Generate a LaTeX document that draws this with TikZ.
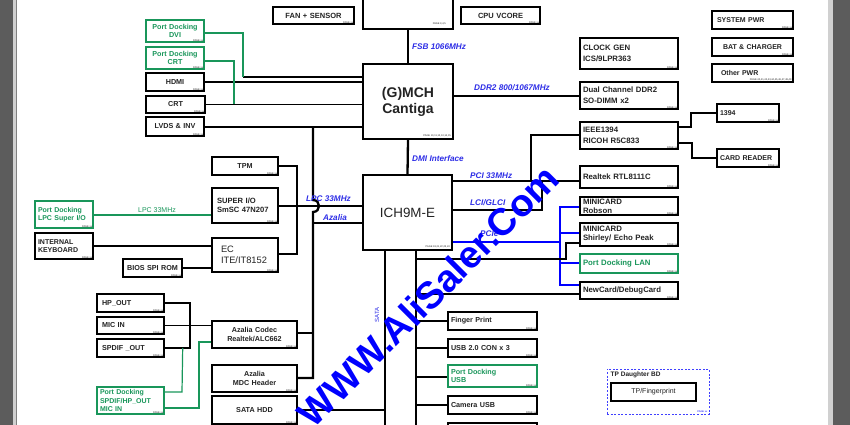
\documentclass[tikz,border=0pt]{standalone}
\usepackage{fontspec}
\setmainfont{Liberation Sans}
\usetikzlibrary{calc}
\definecolor{dgreen}{RGB}{25,150,90}
\definecolor{lblue}{RGB}{45,45,230}
\definecolor{txtc}{RGB}{35,35,35}
\definecolor{sided}{RGB}{92,92,92}
\definecolor{sidel}{RGB}{208,208,208}
\newcommand{\BX}[6]{%
  \pgfmathsetmacro\BXw{#5-#3}%
  \pgfmathsetmacro\BXh{#6-#4}%
  \pgfmathsetmacro\BXx{(#3+#5)/2}%
  \pgfmathsetmacro\BXy{(#4+#6)/2}%
  \pgfmathsetmacro\BXt{#5-#3-6}%
  \node[#1, minimum width=\BXw pt, minimum height=\BXh pt, text width=\BXt pt] (#2) at (\BXx,\BXy)}
\begin{document}
\begin{tikzpicture}[x=1pt,y=-1pt,
  box/.style={draw=black, line width=1.4pt, fill=white, inner xsep=3pt, inner ysep=0pt, text=txtc, align=center, font=\fontsize{7.5}{9.5}\selectfont\bfseries},
  L/.style={align=left},
  gbox/.style={box, draw=dgreen, text=dgreen},
  tight/.style={font=\fontsize{7.2}{8.6}\selectfont\bfseries},
  big/.style={font=\fontsize{7.8}{10.8}\selectfont\bfseries},
  chip/.style={box, line width=2pt},
  pg/.style={font=\fontsize{2.5}{3}\selectfont, inner sep=0pt, text=txtc},
  thin/.style={line width=1.2pt, draw=black},
  bus/.style={line width=2.3pt, draw=black},
  gline/.style={line width=1.2pt, draw=dgreen},
  bline/.style={line width=1.8pt, draw=blue},
  lab/.style={font=\fontsize{8.2}{9}\selectfont\bfseries\itshape, text=lblue, inner sep=0pt, anchor=base west}
]
\useasboundingbox (0,0) rectangle (850,425);
% side bars
\fill[sided] (0,0) rectangle (13,425);
\fill[sidel] (13,0) rectangle (16,425);
\draw[gray, line width=0.8pt] (16.2,0) -- (16.2,425);
\draw[gray, line width=0.8pt] (828,0) -- (828,425);
\fill[sidel] (828.4,0) rectangle (833,425);
\fill[sided] (833,0) rectangle (850,425);

% ---------- boxes ----------
\BX{chip}{cpu}{363}{-12}{453}{29}{};
\BX{box}{fan}{273}{7}{354}{24}{FAN + SENSOR};
\BX{box}{vcore}{461}{7}{540}{24}{CPU VCORE};
\BX{chip,font=\fontsize{14}{16}\selectfont\bfseries}{gmch}{363}{64}{453}{139}{(G)MCH\\Cantiga};
\BX{chip,font=\fontsize{13.4}{15}\selectfont}{ich}{363}{175}{452}{250}{ICH9M-E};

\BX{box,L,font=\fontsize{7}{9}\selectfont\bfseries}{syspwr}{712}{11}{793}{29}{\hspace*{2pt}SYSTEM PWR};
\BX{box,font=\fontsize{7}{9}\selectfont\bfseries}{bat}{712}{38}{793}{56}{BAT \& CHARGER};
\BX{box,L,font=\fontsize{7}{9}\selectfont\bfseries}{otherpwr}{712}{64}{793}{82}{\hspace*{6pt}Other PWR};

\BX{box,L,big}{clk}{580}{38}{678}{69}{CLOCK GEN\\ICS/9LPR363};
\BX{box,L,big}{ddr}{580}{82}{678}{109}{Dual Channel DDR2\\SO-DIMM x2};
\BX{box,L,big}{ieee}{580}{122}{678}{149}{IEEE1394\\RICOH R5C833};
\BX{box,L,font=\fontsize{7}{9}\selectfont\bfseries}{f1394}{717}{104}{779}{122}{1394};
\BX{box,L,font=\fontsize{7}{9}\selectfont\bfseries}{card}{717}{149}{779}{167}{CARD READER};
\BX{box,L,big}{rtl}{580}{166}{678}{188}{\raisebox{-2.5pt}{Realtek RTL8111C}};
\BX{box,L,tight,font=\fontsize{7.8}{8.8}\selectfont\bfseries}{robson}{580}{197}{678}{215}{MINICARD\\Robson};
\BX{box,L,tight,font=\fontsize{7.8}{9}\selectfont\bfseries}{shirley}{580}{223}{678}{246}{MINICARD\\Shirley/ Echo Peak};
\BX{gbox,L,big}{lan}{580}{254}{678}{273}{Port Docking LAN};
\BX{box,L,big}{newcard}{580}{282}{678}{299}{NewCard/DebugCard};

\BX{gbox,tight}{ddvi}{146}{20}{204}{42}{Port Docking\\DVI};
\BX{gbox,tight}{dcrt}{146}{47}{204}{69}{Port Docking\\CRT};
\BX{box,tight}{hdmi}{146}{73}{204}{91}{HDMI};
\BX{box,tight}{crt}{146}{96}{205}{113}{CRT};
\BX{box,tight}{lvds}{146}{117}{204}{136}{LVDS \& INV};

\BX{box,tight}{tpm}{212}{157}{278}{175}{TPM};
\BX{box,L,tight,font=\fontsize{7.6}{9}\selectfont\bfseries}{sio}{212}{188}{278}{223}{\hspace*{2pt}SUPER I/O\\\hspace*{2pt}SmSC 47N207};
\BX{box,L,font=\fontsize{9.3}{10.5}\selectfont}{ec}{212}{238}{278}{272}{\hspace*{6pt}EC\\\hspace*{6pt}ITE/IT8152};
\BX{gbox,L,tight,font=\fontsize{7}{8.4}\selectfont\bfseries}{dlpc}{35}{201}{93}{228}{Port Docking\\LPC Super I/O};
\BX{box,L,tight,font=\fontsize{7}{8.4}\selectfont\bfseries}{kb}{35}{233}{93}{259}{INTERNAL\\KEYBOARD};
\BX{box,tight}{bios}{123}{259}{182}{277}{BIOS SPI ROM};

\BX{box,L,tight}{hp}{97}{294}{164}{312}{\hspace*{2pt}HP\_OUT};
\BX{box,L,tight}{mic}{97}{317}{164}{334}{\hspace*{2pt}MIC IN};
\BX{box,L,tight}{spdif}{97}{339}{164}{357}{\hspace*{2pt}SPDIF \_OUT};
\BX{gbox,L,font=\fontsize{7}{8.3}\selectfont\bfseries}{dspdif}{97}{387}{164}{414}{Port Docking\\SPDIF/HP\_OUT\\MIC IN};
\BX{box,tight}{codec}{212}{321}{297}{348}{Azalia Codec\\Realtek/ALC662};
\BX{box,tight}{mdc}{212}{365}{297}{392}{Azalia\\MDC Header};
\BX{box,tight}{hdd}{212}{396}{297}{424}{SATA HDD};

\BX{box,L,tight}{finger}{448}{312}{537}{330}{Finger Print};
\BX{box,L,tight}{usb2}{448}{339}{537}{357}{USB 2.0 CON x 3};
\BX{gbox,L,tight}{dusb}{448}{365}{537}{387}{Port Docking\\USB};
\BX{box,L,tight}{cam}{448}{396}{537}{414}{Camera USB};
\BX{box,L,tight}{nextbox}{448}{423}{537}{445}{};

\BX{box,draw=blue!75, dash pattern=on 2pt off 1.6pt, line width=1pt}{tpd}{607}{369}{709}{414}{};
\node[font=\fontsize{6.5}{7}\selectfont\bfseries, text=txtc, anchor=north west, inner sep=0pt] (tplab) at ([xshift=4pt,yshift=-3pt]tpd.north west) {TP Daughter BD};
\BX{box,font=\fontsize{7}{8}\selectfont}{tpfp}{611}{383}{696}{401}{TP/Fingerprint};
\node[pg, text=blue, anchor=south east] (pg-tpd) at ([xshift=-2pt,yshift=2pt]tpd.south east) {PAGE xx};

% page references
\foreach \n in {fan,vcore,syspwr,bat,clk,ddr,ieee,f1394,card,rtl,robson,shirley,lan,newcard,ddvi,dcrt,hdmi,crt,lvds,tpm,sio,ec,dlpc,kb,bios,hp,mic,spdif,dspdif,codec,mdc,hdd,finger,usb2,dusb,cam}
  \node[pg, anchor=south east] (pg-\n) at ([xshift=-1.5pt,yshift=1.2pt]\n.south east) {PAGE xx};
\node[pg, anchor=south east] (pg-cpu) at ([xshift=-8pt,yshift=5pt]cpu.south east) {PAGE 3,4,5};
\node[pg, anchor=south east] (pg-gmch) at ([xshift=-3pt,yshift=3pt]gmch.south east) {PAGE 10,11,12,13,14,15};
\node[pg, anchor=south east] (pg-ich) at ([xshift=-3pt,yshift=3pt]ich.south east) {PAGE 18,21,22,23,24};
\node[pg, anchor=south east] (pg-other) at ([xshift=-2pt,yshift=1.2pt]otherpwr.south east) {PAGE 40,41,42,43,44,45,46,47,48,49};

% ---------- connectors ----------
\draw[bus] (cpu.south) -- (gmch.north);
\node[lab] (fsbl) at (412,50) {FSB 1066MHz};
\draw[bus] (gmch.east |- 0,96) -- (ddr.west |- 0,96);
\node[lab] (ddrl) at (474,91) {DDR2 800/1067MHz};
\draw[bus] (gmch.south) -- (ich.north);
\node[lab] (dmil) at (412,161) {DMI Interface};

% GMCH left side
\coordinate (jdvi) at (243,77);
\coordinate (jcrt) at (234,104.5);
\draw[thin] (jdvi) -- (gmch.west |- jdvi);
\draw[gline] (ddvi.east |- 0,33) -| (jdvi);
\draw[thin] (hdmi.east) -- (gmch.west |- hdmi.east);
\draw[thin] (crt.east) -- (gmch.west |- crt.east);
\draw[gline] (dcrt.east |- 0,61) -| (jcrt);
\draw[thin] (lvds.east |- 0,127) -- (gmch.west |- 0,127);

% Azalia bus with hop over LPC
\coordinate (az0) at (313,127);
\draw[bus] (az0) -- (313,200) .. controls (321,200) and (321,212) .. (313,212) |- (mdc.east |- 0,378);
\draw[bus] (codec.east |- 0,333) -- (313,333);
\draw[bus] (ich.west |- 0,223) -- (313,223);
\node[lab] (azl) at (323,220) {Azalia};
\draw[bus] (sio.east |- 0,206) -- (ich.west |- 0,206);
\node[lab] (lpcl) at (306,201) {LPC 33MHz};

% TPM / EC bus
\draw[bus] (tpm.east) -- ++(18,0) |- (ec.east |- 0,254);
\draw[gline] (dlpc.east |- 0,215) -- (sio.west |- 0,215);
\node[font=\fontsize{7}{8}\selectfont, text=dgreen, anchor=base, inner sep=0pt] (lpcg) at (157,212) {LPC 33MHz};
\draw[thin] (kb.east |- 0,246) -- (ec.west |- 0,246);
\draw[thin] (bios.east) -- (ec.west |- bios.east);

% ICH right side
\coordinate (jpci) at (531,181);
\coordinate (jlci) at (542,181);
\draw[bus] (ich.east |- 0,181) -- (rtl.west |- 0,181);
\draw[bus] (jpci) |- (ieee.west |- 0,135);
\draw[bus] (ich.east |- 0,210) -| (jlci);
\node[lab] (pcil) at (470,178.5) {PCI 33MHz};
\node[lab] (lcil) at (470,205) {LCI/GLCI};

\coordinate (pb0) at (560,242);
\coordinate (pb1) at (560,207);
\coordinate (pb2) at (560,285);
\draw[bline] (ich.east |- pb0) -- (pb0);
\draw[bline] (robson.west |- pb1) -- (pb1) -- (pb2) -- (newcard.west |- pb2);
\draw[bline] (pb1 |- 0,233) -- (shirley.west |- 0,233);
\draw[bline] (pb1 |- 0,263) -- (lan.west |- 0,263);
\node[lab] (pciel) at (480,236) {PCIe};

% IEEE1394 branches
\draw[thin] (ieee.east |- 0,127) -- (691,127) |- (f1394.west |- 0,113);
\draw[thin] (ieee.east |- 0,143) -- (692,143) |- (card.west);

% USB and SATA
\coordinate (ux) at (416,0);
\coordinate (sx) at (385,0);
\draw[bus] (ich.south -| ux) -- (416,440);
\draw[bus] (ich.south -| sx) -- (385,440);
\coordinate (u1) at (416,259);
\coordinate (u2) at (416,294);
\coordinate (u3) at (416,321);
\coordinate (u4) at (416,348);
\coordinate (u5) at (416,377);
\coordinate (u6) at (416,405);
\draw[bus] (u1) -- (566,259) -- (566,243) -- (shirley.west |- 0,243);
\draw[bus] (u2) -- (newcard.west |- u2);
\draw[bus] (u3) -- (finger.west |- u3);
\draw[bus] (u4) -- (usb2.west |- u4);
\draw[bus] (u5) -- (dusb.west |- u5);
\draw[bus] (u6) -- (cam.west |- u6);
\draw[bus] (hdd.east) -- (hdd.east -| sx);
\node[font=\fontsize{6}{7}\selectfont, text=lblue, rotate=90, inner sep=0pt] (satal) at (377,315) {SATA};

% Audio
\draw[thin] (hp.east) -- (190,303) -- (190,348) -- (spdif.east);
\draw[thin] (mic.east) -- (codec.west |- mic.east);
\draw[gline] ([xshift=18pt]spdif.east) -- (182,392) -- (dspdif.east |- 0,392);
\draw[gline] (codec.west |- 0,342) -| (199,408) -- (dspdif.east |- 0,408);

% watermark
\node[rotate=45, font=\fontsize{38}{40}\selectfont\bfseries, text=blue, inner sep=0pt] (wm) at (428,296) {WWW.AliSaler.Com};
\end{tikzpicture}
\end{document}
